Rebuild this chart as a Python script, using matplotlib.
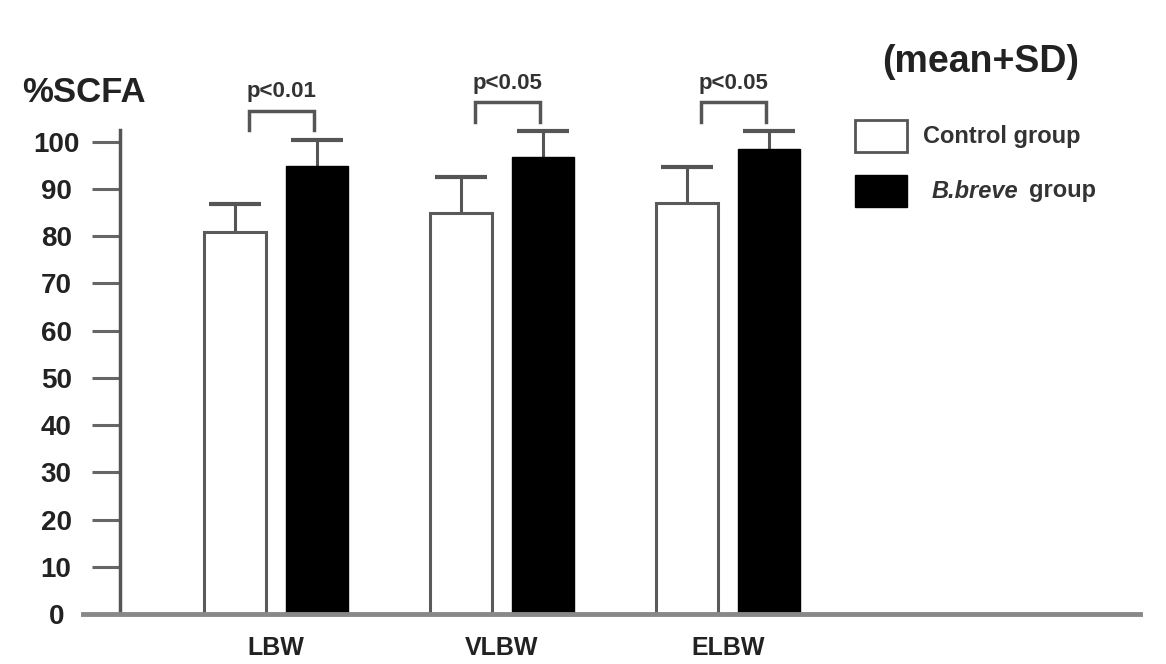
import matplotlib
matplotlib.use('Agg')
import matplotlib.pyplot as plt
from matplotlib.patches import Rectangle
import numpy as np

plt.rcParams['font.family'] = ['Liberation Sans', 'DejaVu Sans']

# data
groups = ['LBW', 'VLBW', 'ELBW']
control_mean = [80.9, 84.9, 87.0]
control_sd = [6.0, 7.7, 7.6]
breve_mean = [94.8, 96.7, 98.4]
breve_sd = [5.6, 5.6, 3.9]
p_labels = ['p<0.01', 'p<0.05', 'p<0.05']
bracket_top = [106.6, 108.4, 108.4]
yticks = list(range(0, 101, 10))

W, H = 1166, 664
fig = plt.figure(figsize=(W / 100, H / 100), dpi=100)
fig.patch.set_facecolor('white')
ax = fig.add_axes([83 / W, 50 / H, (1140 - 83) / W, 614 / H])

x = np.arange(len(groups))
bw = 0.274
off = 0.18

# bars
ax.bar(x - off, control_mean, bw, color='white', edgecolor='#5a5a5a', linewidth=2.2, zorder=2)
ax.bar(x + off, breve_mean, bw, color='black', edgecolor='black', linewidth=1, zorder=2)

# error bars (mean + SD only), drop the lower cap sitting on the bar top
for xs, m, sd in [(x - off, control_mean, control_sd), (x + off, breve_mean, breve_sd)]:
    _, caps, _ = ax.errorbar(xs, m, yerr=[np.zeros(len(xs)), sd], fmt='none',
                             ecolor='#555555', elinewidth=2.2, capsize=19, capthick=3, zorder=1)
    for c in caps:
        if np.allclose(c.get_ydata(), m):
            c.set_visible(False)

# significance brackets
for i in range(len(groups)):
    x0, x1 = x[i] - 0.12, x[i] + 0.17
    top = bracket_top[i]
    ax.plot([x0, x0, x1, x1], [top - 4.2, top, top, top - 4.2], color='#555555', lw=2.5,
            solid_joinstyle='miter', zorder=3)
    ax.text((x0 + x1) / 2, top + 4, p_labels[i], ha='center', va='center',
            fontsize=16, fontweight='bold', color='#333333')

# axes
ax.set_xlim(-0.854, 3.823)
ax.set_ylim(0, 130)
ax.spines['top'].set_visible(False)
ax.spines['right'].set_visible(False)
ax.spines['left'].set_position(('data', -0.69))
ax.spines['left'].set_bounds(0, 102.5)
ax.spines['left'].set_color('#555555')
ax.spines['left'].set_linewidth(2.5)
ax.spines['bottom'].set_color('#888888')
ax.spines['bottom'].set_linewidth(3.5)
ax.spines['bottom'].set_zorder(4)

ax.set_yticks(yticks)
ax.set_yticklabels([str(t) for t in yticks], fontsize=20, fontweight='bold', color='#222222')
for lab in ax.get_yticklabels():
    lab.set_horizontalalignment('center')
ax.tick_params(axis='y', length=20, width=2.2, color='#666666', pad=26)

ax.set_xticks(x)
ax.set_xticklabels(groups, fontsize=18, fontweight='bold', color='#222222')
ax.tick_params(axis='x', length=0, pad=16)

# titles / legend
fig.text(22 / W, 1 - 93 / H, '%SCFA', fontsize=25, fontweight='bold', va='center', ha='left', color='#222222')
fig.text(981 / W, 1 - 62 / H, '(mean+SD)', fontsize=27, fontweight='bold', va='center', ha='center', color='#222222')

fig.add_artist(Rectangle((855 / W, 1 - 152 / H), 52 / W, 32 / H, transform=fig.transFigure,
                         facecolor='white', edgecolor='#555555', lw=2))
fig.add_artist(Rectangle((855 / W, 1 - 207 / H), 52 / W, 32 / H, transform=fig.transFigure,
                         facecolor='black', edgecolor='black', lw=1))
fig.text(923 / W, 1 - 136 / H, 'Control group', fontsize=17, fontweight='bold', va='center', color='#333333')
fig.text(932 / W, 1 - 191 / H, 'B.breve', fontsize=17, fontweight='bold', style='italic', va='center', color='#333333')
fig.text(1029 / W, 1 - 191 / H, 'group', fontsize=17, fontweight='bold', va='center', color='#333333')

plt.savefig('out.png', dpi=100)
plt.close()
